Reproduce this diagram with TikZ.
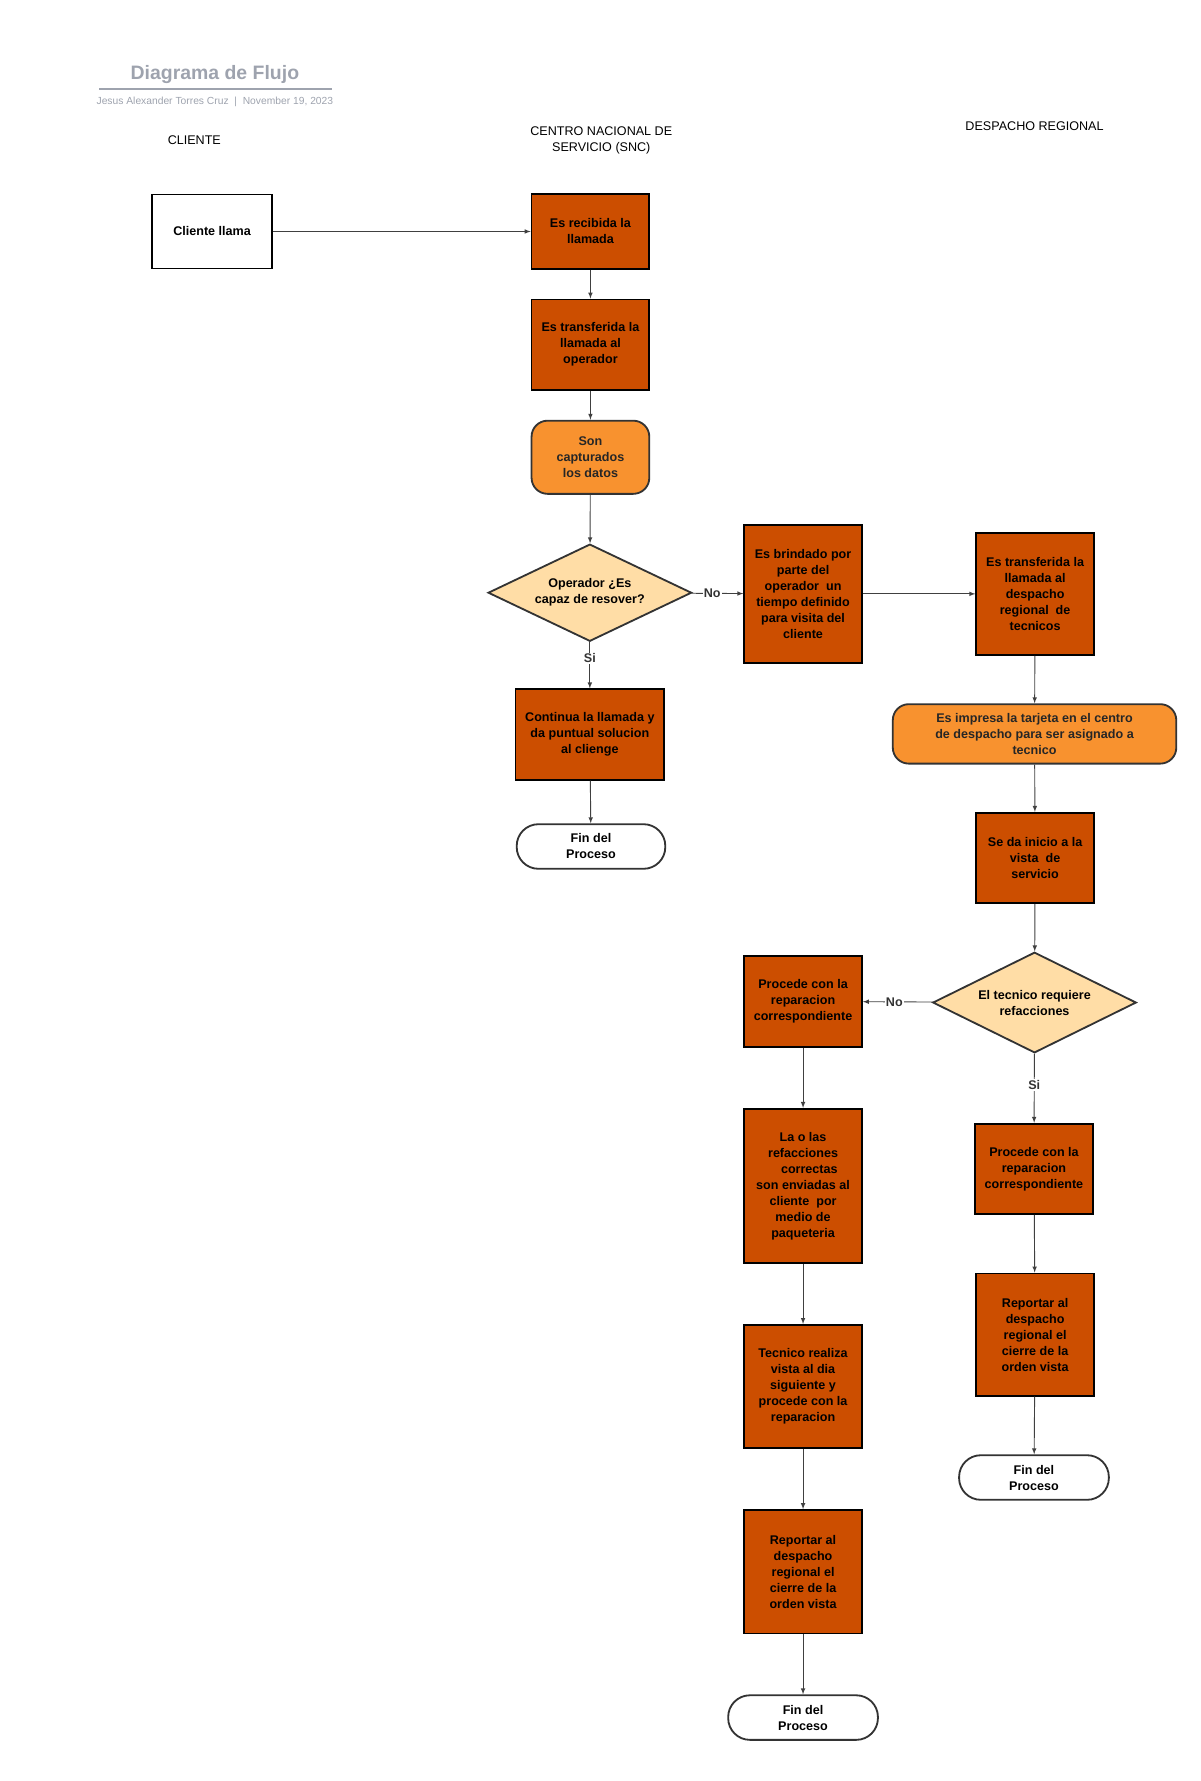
\documentclass[tikz,border=0pt]{standalone}
\usepackage{fontspec}
\setmainfont{Liberation Sans}
\usetikzlibrary{shapes.geometric}
\definecolor{rust}{HTML}{CC4E00}
\definecolor{tang}{HTML}{F8922F}
\definecolor{sand}{HTML}{FFDDA6}
\definecolor{titlegray}{HTML}{9EA3AE}
\tikzset{
  task/.style={rectangle, draw=black, line width=1.6pt, fill=rust, align=center, font=\bfseries\fontsize{11}{14}\selectfont, inner sep=2pt},
  soft/.style={rectangle, rounded corners=14pt, draw=black!80, line width=1.6pt, fill=tang, align=center, font=\bfseries\fontsize{11}{14}\selectfont, text=black!85},
  ask/.style={diamond, draw=black!80, line width=1.6pt, fill=sand, align=center, aspect=2.1, inner sep=0pt, font=\bfseries\fontsize{11}{14}\selectfont},
  stop/.style={rectangle, rounded corners=19pt, draw=black!80, line width=1.6pt, fill=white, align=center, font=\bfseries\fontsize{11}{14}\selectfont},
  lane/.style={align=center, font=\fontsize{11}{14}\selectfont},
  flow/.style={draw=black!75, line width=0.8pt, -latex},
  tag/.style={fill=white, inner sep=1pt, font=\bfseries\fontsize{11}{13}\selectfont, text=black!80}
}
\begin{document}
\begin{tikzpicture}[x=1pt, y=-1pt]
        \useasboundingbox (0,0) rectangle (1050,1558);

        \node[font=\bfseries\fontsize{17}{20}\selectfont, text=titlegray] (title) at (188, 65) {Diagrama de Flujo};
        \draw[titlegray, line width=1.5pt] (87, 78) -- (290, 78);
        \node[font=\fontsize{9}{11}\selectfont, text=titlegray] (sub) at (188, 89) {Jesus Alexander Torres Cruz \ | \ November 19, 2023};

        \node[lane] (cliente) at (170, 123) {CLIENTE};
        \node[lane] (snc) at (526, 123) {CENTRO NACIONAL DE\\SERVICIO (SNC)};
        \node[lane] (despacho) at (905, 110) {DESPACHO REGIONAL};

        \node[task, fill=white, line width=1pt, minimum width=105pt, minimum height=65pt] (llama) at (185.5, 202.5) {Cliente llama};
        \node[task, minimum width=103pt, minimum height=65pt] (recibida) at (516.5, 202.5) {Es recibida la\\llamada};
        \node[task, minimum width=103pt, minimum height=79pt] (operador) at (516.5, 301.5) {Es transferida la\\llamada al\\operador};
        \node[soft, minimum width=103pt, minimum height=64pt] (datos) at (516.5, 400) {Son\\capturados\\los datos};
        \node[ask, minimum width=178pt, minimum height=85pt] (capaz) at (516, 518.5) {Operador ¿Es\\capaz de resover?};
        \node[task, minimum width=130pt, minimum height=79pt] (continua) at (516, 642.5) {Continua la llamada y\\da puntual solucion\\al clienge};
        \node[stop, minimum width=130pt, minimum height=39pt] (fin1) at (517, 740.5) {Fin del\\Proceso};

        \node[task, minimum width=103pt, minimum height=121pt] (brindado) at (702.5, 519.5) {Es brindado por\\parte del\\operador \ un\\tiempo definido\\para visita del\\cliente};
        \node[task, minimum width=103pt, minimum height=107pt] (regional) at (905.5, 519.5) {Es transferida la\\llamada al\\despacho\\regional \ de\\tecnicos};
        \node[soft, minimum width=248pt, minimum height=52pt] (impresa) at (905, 642) {Es impresa la tarjeta en el centro\\de despacho para ser asignado a\\tecnico};
        \node[task, minimum width=103pt, minimum height=79pt] (inicio) at (905.5, 750.5) {Se da inicio a la\\vista \ de\\servicio};
        \node[ask, minimum width=178pt, minimum height=88pt] (refac) at (905, 877) {El tecnico requiere\\refacciones};

        \node[task, minimum width=103pt, minimum height=80pt] (procedeA) at (702.5, 876) {Procede con la\\reparacion\\correspondiente};
        \node[task, minimum width=103pt, minimum height=135pt] (envio) at (702.5, 1037.5) {La o las\\refacciones\\\quad correctas\\son enviadas al\\cliente \ por\\medio de\\paqueteria};
        \node[task, minimum width=103pt, minimum height=108pt] (visita) at (702.5, 1213) {Tecnico realiza\\vista al dia\\siguiente y\\procede con la\\reparacion};
        \node[task, minimum width=103pt, minimum height=108pt] (reporteA) at (702.5, 1375) {Reportar al\\despacho\\regional el\\cierre de la\\orden vista};
        \node[stop, minimum width=131pt, minimum height=39pt] (fin2) at (702.5, 1502.5) {Fin del\\Proceso};

        \node[task, minimum width=103pt, minimum height=79pt] (procedeB) at (904.5, 1022.5) {Procede con la\\reparacion\\correspondiente};
        \node[task, minimum width=103pt, minimum height=107pt] (reporteB) at (905.5, 1167.5) {Reportar al\\despacho\\regional el\\cierre de la\\orden vista};
        \node[stop, minimum width=131pt, minimum height=39pt] (fin3) at (904.5, 1292.5) {Fin del\\Proceso};

        \draw[flow] (llama) -- (recibida);
        \draw[flow] (recibida) -- (operador);
        \draw[flow] (operador) -- (datos);
        \draw[flow] (datos) -- (capaz);
        \draw[flow] (capaz) -- node[tag, pos=0.4] {No} (brindado);
        \draw[flow] (capaz) -- node[tag, pos=0.35] {Si} (continua);
        \draw[flow] (continua) -- (fin1);
        \draw[flow] (brindado) -- (regional);
        \draw[flow] (regional) -- (impresa);
        \draw[flow] (impresa) -- (inicio);
        \draw[flow] (inicio) -- (refac);
        \draw[flow] (refac) -- node[tag, pos=0.55] {No} (procedeA);
        \draw[flow] (refac) -- node[tag, pos=0.45] {Si} (procedeB);
        \draw[flow] (procedeA) -- (envio);
        \draw[flow] (envio) -- (visita);
        \draw[flow] (visita) -- (reporteA);
        \draw[flow] (reporteA) -- (fin2);
        \draw[flow] (procedeB) -- (reporteB);
        \draw[flow] (reporteB) -- (fin3);

\end{tikzpicture}
\end{document}
